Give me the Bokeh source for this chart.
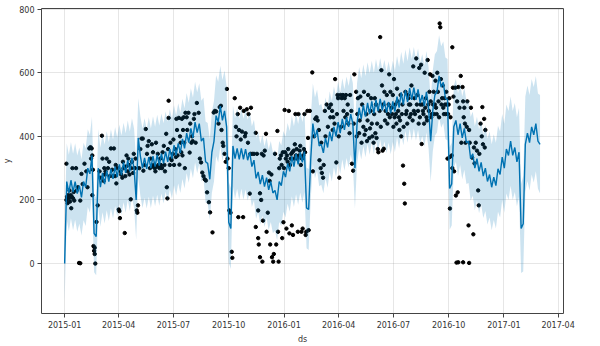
import numpy as np
import pandas as pd
from datetime import datetime
from bokeh.plotting import figure
from bokeh.models import Range1d, FixedTicker, DatetimeTickFormatter
from bokeh.embed import file_html
from bokeh.resources import INLINE

start = pd.Timestamp("2015-01-01")

# forecast (yhat), one value every 3.5 days from 2015-01-01
yhat = [0, 258, 222, 262, 225, 258, 220, 245, 208, 258,
        240, 300, 282, 340, 95, 85, 300, 240, 285, 250,
        292, 258, 298, 266, 305, 272, 312, 278, 318, 285,
        325, 290, 332, 300, 200, 395, 338, 300, 332, 298,
        335, 300, 338, 305, 342, 308, 346, 315, 352, 320,
        360, 330, 372, 340, 378, 348, 392, 362, 410, 380,
        425, 395, 445, 412, 440, 385, 395, 320, 315, 265,
        350, 385, 465, 445, 495, 450, 480, 430, 130, 110,
        370, 330, 362, 328, 362, 328, 360, 325, 350, 305,
        325, 268, 288, 250, 278, 242, 270, 232, 258, 222,
        230, 200, 258, 245, 290, 272, 315, 290, 338, 305,
        345, 312, 350, 318, 352, 175, 170, 330, 440, 395,
        420, 370, 375, 348, 395, 365, 415, 385, 430, 400,
        445, 410, 455, 420, 460, 430, 470, 440, 300, 440,
        490, 455, 498, 462, 505, 470, 510, 472, 515, 480,
        518, 482, 512, 475, 508, 472, 510, 478, 525, 490,
        538, 500, 545, 508, 552, 515, 553, 515, 548, 505,
        530, 495, 540, 490, 385, 480, 530, 540, 590, 555,
        570, 520, 515, 236, 250, 430, 450, 405, 440, 395,
        425, 380, 385, 330, 345, 300, 330, 290, 318, 275,
        300, 258, 280, 240, 272, 245, 298, 280, 335, 300,
        360, 340, 385, 340, 365, 320, 350, 110, 125, 375,
        410, 380, 430, 405, 440, 385, 375]

# uncertainty half-width by month, 2015-01 .. 2017-03
band_halfwidth = [120, 122, 124, 125, 125, 126, 126, 127, 127, 127, 127, 127,
                  127, 127, 127, 128, 128, 128, 128, 128, 128, 130, 132, 135,
                  140, 150, 155]

# observed points: day offset from 2015-01-01 and value
obs_day = [3, 3, 4, 5, 6, 7, 8, 9, 10, 11, 12, 13, 14, 15, 16, 19, 20, 22, 24, 26,
           26, 28, 30, 33, 36, 38, 41, 43, 44, 45, 46, 46, 47, 48, 49, 50, 51, 50, 53, 55,
           58, 62, 63, 65, 67,
           68, 70, 72, 75, 77, 80, 82, 84, 86, 88, 90, 91, 92, 94, 96, 98, 100, 101, 103, 105,
           107, 108, 110, 112, 115, 117, 118, 120, 121, 122, 124,
           128, 130, 131, 135, 138, 140, 142, 145, 146, 148, 150, 152, 154, 156, 158, 160, 162,
           165, 166, 169, 170, 171, 173, 173, 175, 177, 178, 180, 182, 185, 186, 188, 190, 191,
           193, 195, 196, 198, 200,
           201, 203, 206, 208, 211, 213, 215, 218, 220, 223, 225, 227, 229, 231, 233, 235, 237,
           240, 242, 246, 248, 250, 252, 256, 258, 260, 261, 263, 264, 266, 268, 270, 271, 273,
           274, 276, 278, 279,
           283, 285, 286, 288, 289, 290, 292, 293, 295, 297, 298, 300, 301, 303, 305, 306, 308,
           309, 310, 312, 315, 318, 318, 320, 322, 322, 323, 325, 325, 327, 328, 329, 330, 331,
           333, 335, 336, 338, 340, 341, 342, 344, 345, 347, 348, 350, 352, 354, 355, 356, 358,
           360, 362, 364,
           366, 368, 369, 371, 373, 374, 376, 378, 380, 381, 383, 384, 386, 388, 389, 391, 392,
           394, 396, 398, 399, 401, 402, 404, 405, 406, 408, 412, 413,
           417, 419, 421, 424, 426, 428, 430, 431, 433, 436, 440, 443, 445, 447, 450, 452, 454,
           455, 457, 459, 461, 463, 466, 468, 470, 472, 475, 478, 480, 482, 485, 486, 488, 490,
           492, 494,
           498, 499, 501, 503, 505, 507, 508, 510, 512, 514, 516, 517, 519, 521, 522, 525, 527,
           528, 529, 531, 532, 534, 536, 538, 540, 542, 544, 546, 548, 549, 551, 553, 555, 557,
           559, 560, 562, 563, 565, 566, 567, 569, 571, 573, 575, 577, 580, 582,
           585, 587, 588, 590, 591, 593, 594, 595, 597, 599, 600, 602, 604, 605, 606, 608, 609,
           610, 612, 613, 615, 617, 618, 620, 622, 623, 624, 625, 626, 627, 629, 630, 632, 634,
           636, 637, 638, 640, 641, 641, 642, 644, 645,
           645, 646, 647, 648, 650, 651, 652, 653, 654, 655, 655, 657, 659, 660, 662, 663, 663,
           664, 665, 666, 667, 669, 670, 672, 673, 673, 674, 676, 678, 680, 681, 682, 684, 686,
           688, 689, 690, 692, 694, 695, 696, 698, 699, 700,
           60, 66, 74, 79, 85, 93, 97, 102, 106, 111, 114, 126, 133, 137, 143, 147, 151,
           155, 159, 163, 167, 172, 176, 181, 184, 187, 192, 194, 197, 199, 204, 209, 212, 216,
           357, 361, 363, 365, 367, 370, 372, 375, 377, 379, 382, 385, 387, 390, 393, 395, 397, 400,
           415, 423, 427, 434, 438, 442, 446, 449, 453, 456, 460, 464, 467, 471, 474, 477, 481,
           487, 491, 495, 497, 502, 504, 509, 511, 515, 518, 520, 524, 526, 530, 533, 537, 539,
           541, 545, 547, 550, 552, 554, 556, 558, 561, 564, 568, 570, 572, 574, 576, 579, 581,
           583, 586, 589, 592, 596, 598, 601, 603, 607, 611, 614, 616, 619, 621, 628, 631, 633,
           635, 639]
obs_y = [314, 200, 210, 190, 215, 205, 230, 195, 215, 174, 210, 300, 205, 225, 198, 300, 230, 240, 2, 1,
         198, 282, 250, 314, 290, 240, 362, 366, 330, 362, 215, 340, 295, 55, 40, 30, 0, 50, 131, 183,
         290, 402, 330, 260, 280,
         290, 330, 300, 275, 362, 275, 362, 275, 252, 300, 170, 165, 143, 280, 270, 300, 96, 275, 340, 290,
         310, 280, 202, 320, 345, 300, 330, 167, 160, 183, 300,
         393, 393, 292, 423, 370, 385, 300, 375, 305, 310, 300, 380, 305, 310, 300, 310, 300,
         370, 310, 408, 240, 205, 458, 512, 310, 330, 325, 345, 310, 335, 455, 340, 458, 311,
         380, 455, 340, 460, 300,
         474, 460, 474, 349, 380, 385, 455, 380, 505, 474, 330, 318, 286, 275, 265, 261, 224,
         193, 161, 98, 475, 480, 478, 440, 492, 496, 420, 380, 370, 345, 320, 549, 330, 300,
         167, 160, 37, 18,
         520, 430, 400, 470, 146, 420, 490, 390, 415, 146, 480, 400, 410, 485, 380, 470, 220,
         345, 490, 345, 345, 411, 115, 345, 80, 167, 60, 221, 20, 200, 345, 6, 135, 340,
         355, 408, 100, 160, 286, 260, 60, 280, 20, 6, 30, 345, 60, 417, 100, 6, 330,
         340, 80, 130,
         483, 330, 110, 320, 480, 95, 330, 120, 90, 355, 375, 470, 360, 100, 470, 355, 370,
         100, 110, 360, 470, 90, 100, 480, 395, 105, 480, 601, 290,
         455, 460, 450, 325, 300, 285, 270, 310, 480, 500, 490, 500, 480, 460, 580, 318, 530,
         520, 270, 530, 520, 530, 520, 530, 470, 440, 530, 314, 292, 595, 540, 400, 520, 410,
         525, 380,
         540, 405, 420, 385, 530, 395, 425, 520, 400, 380, 520, 410, 395, 360, 350, 712, 608,
         560, 355, 361, 540, 480, 530, 470, 595, 540, 490, 530, 580, 460, 470, 550, 480, 420,
         530, 400, 500, 308, 251, 189, 540, 480, 530, 500, 500, 560, 620, 520,
         645, 530, 480, 615, 460, 625, 376, 500, 470, 600, 490, 460, 640, 500, 480, 595, 510,
         460, 590, 500, 470, 575, 490, 600, 510, 460, 755, 743, 580, 500, 560, 490, 520, 470,
         500, 330, 470, 520, 173, 335, 460, 340, 300,
         680, 553, 525, 290, 553, 214, 3, 510, 224, 555, 4, 490, 590, 380, 555, 4, 510,
         460, 490, 440, 380, 430, 510, 120, 2, 420, 380, 490, 333, 92, 365, 315, 380, 355,
         230, 183, 345, 440, 400, 492, 375, 455, 365, 420,
         270, 300, 320, 295, 310, 290, 320, 305, 330, 300, 285, 360, 310, 345, 330, 350, 290,
         345, 330, 350, 290, 360, 380, 390, 360, 420, 400, 350, 420, 380, 420, 440, 400, 470,
         300, 310, 350, 300, 350, 340, 360, 310, 345, 350, 330, 340, 330, 340, 310, 330, 340, 350,
         400, 420, 380, 400, 430, 460, 420, 440, 470, 400, 430, 480, 460, 500, 410, 480, 440,
         470, 450, 500, 430, 470, 450, 480, 440, 470, 500, 440, 480, 430, 500, 450, 440, 500,
         460, 470, 430, 500, 440, 510, 460, 450, 470, 430, 470, 440, 520, 460, 470, 450, 480,
         470, 500, 440, 500, 480, 440, 520, 450, 540, 470, 540, 500, 470, 540, 520, 470, 500,
         540, 500]

tick_dates = ["2015-01-01", "2015-04-01", "2015-07-01", "2015-10-01", "2016-01-01",
              "2016-04-01", "2016-07-01", "2016-10-01", "2017-01-01", "2017-04-01"]

fc_dates = pd.date_range(start, periods=len(yhat), freq="84h")
yhat_arr = np.array(yhat, dtype=float)
month_idx = (fc_dates.year - 2015) * 12 + fc_dates.month - 1
hw = np.array(band_halfwidth, dtype=float)[month_idx]
lower = yhat_arr - hw
upper = yhat_arr + hw

pt_dates = start + pd.to_timedelta(obs_day, unit="D")

p = figure(width=600, height=346, x_axis_type="datetime",
           output_backend="svg", toolbar_location=None,
           x_range=Range1d(datetime(2014, 11, 23, 12), datetime(2017, 4, 10)),
           y_range=Range1d(-157, 802))
p.min_border_left = 37
p.min_border_right = 37
p.min_border_top = 8
p.min_border_bottom = 32
p.background_fill_color = "white"
p.border_fill_color = "white"
p.outline_line_color = "#444444"
p.outline_line_width = 1

p.scatter(pt_dates, obs_y, size=3.4, color="black")
p.line(fc_dates, yhat_arr, line_color="#0072B2", line_width=1.4)
p.varea(x=fc_dates, y1=lower, y2=upper, fill_color="#0072B2", fill_alpha=0.2)

tick_ms = [pd.Timestamp(t).timestamp() * 1000 for t in tick_dates]
p.xaxis.ticker = FixedTicker(ticks=tick_ms)
fmt = "%Y-%m"
p.xaxis.formatter = DatetimeTickFormatter(years=fmt, months=fmt, days=fmt, hours=fmt,
                                          minutes=fmt, seconds=fmt, milliseconds=fmt,
                                          microseconds=fmt, hourmin=fmt, minsec=fmt)
p.yaxis.ticker = FixedTicker(ticks=[0, 200, 400, 600, 800])

for ax in (p.xaxis[0], p.yaxis[0]):
    ax.axis_line_color = None
    ax.major_tick_line_color = "#444444"
    ax.major_tick_out = 4
    ax.major_tick_in = 0
    ax.minor_tick_line_color = None
    ax.major_label_text_font = "DejaVu Sans"
    ax.major_label_text_font_size = "8px"
    ax.major_label_text_color = "#333333"
    ax.axis_label_text_font = "DejaVu Sans"
    ax.axis_label_text_font_size = "8px"
    ax.axis_label_text_font_style = "normal"
    ax.axis_label_text_color = "#333333"
    ax.major_label_standoff = 3
    ax.axis_label_standoff = 4

p.xaxis.axis_label = "ds"
p.yaxis.axis_label = "y"

p.xgrid.ticker = FixedTicker(ticks=tick_ms)
p.ygrid.ticker = FixedTicker(ticks=[0, 200, 400, 600, 800])
p.grid.grid_line_color = "gray"
p.grid.grid_line_alpha = 0.2
p.grid.grid_line_width = 1

open("out.html", "w").write(file_html(p, INLINE))
